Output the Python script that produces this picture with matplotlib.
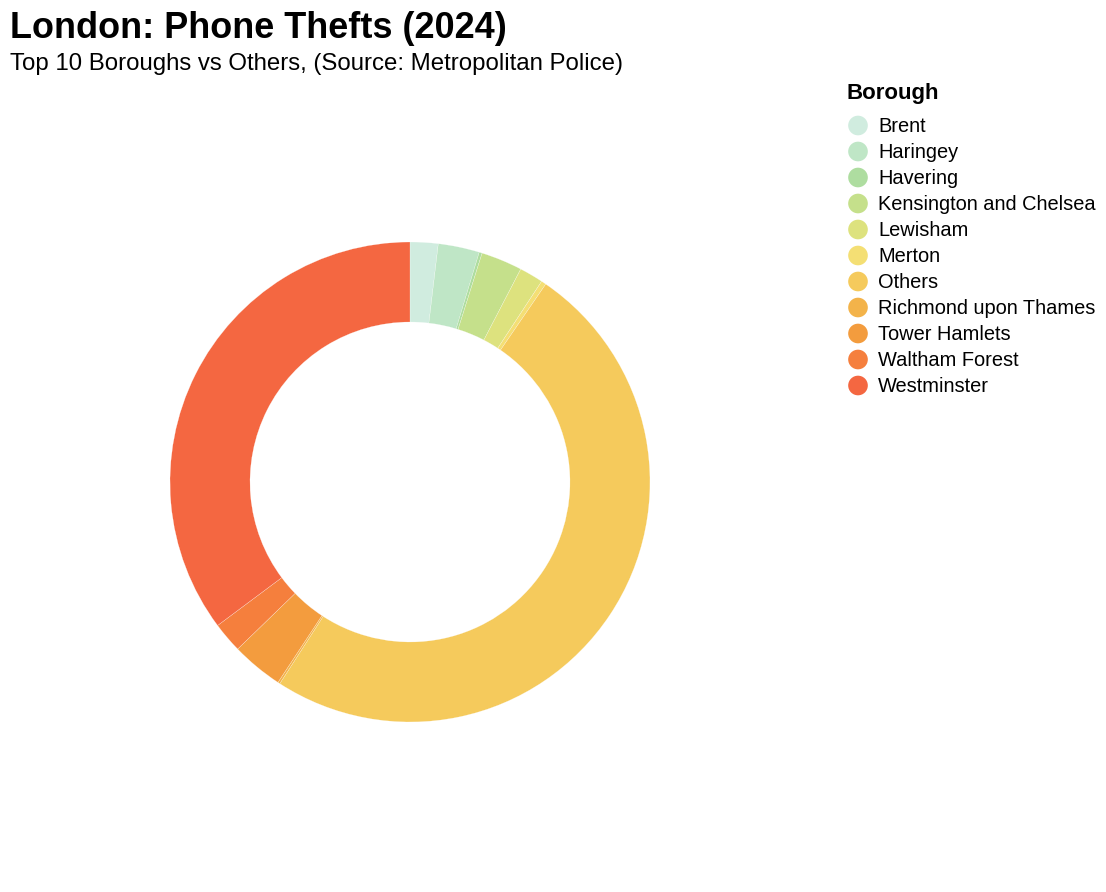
import matplotlib
matplotlib.use('Agg')
import matplotlib.pyplot as plt

# Phone thefts by borough, read off the donut (approximate counts)
boroughs = ['Brent', 'Haringey', 'Havering', 'Kensington and Chelsea', 'Lewisham',
            'Merton', 'Others', 'Richmond upon Thames', 'Tower Hamlets',
            'Waltham Forest', 'Westminster']
thefts = [1430, 2110, 150, 2110, 1220, 250, 37650, 110, 2640, 1560, 26740]
colors = ['#d0ecdf', '#bfe6c6', '#aedda0', '#c5e08b', '#dde27e', '#f4df74',
          '#f5ca5c', '#f3b34a', '#f39c3e', '#f57f3d', '#f46741']

title = 'London: Phone Thefts (2024)'
subtitle = 'Top 10 Boroughs vs Others, (Source: Metropolitan Police)'
legend_title = 'Borough'

W, H = 1106, 892
plt.rcParams['font.family'] = ['Liberation Sans', 'DejaVu Sans']

fig = plt.figure(figsize=(W / 100, H / 100), dpi=100)


def fx(x):
    return x / W


def fy(y):
    return 1 - y / H


# donut: centre (410, 482), outer radius 240 px
cx, cy, r = 410, 482, 240
ax = fig.add_axes([fx(cx - r), fy(cy + r), 2 * r / W, 2 * r / H])
ax.pie(thefts, colors=colors, startangle=90, counterclock=False, radius=1,
       wedgeprops={'width': 1 / 3, 'edgecolor': 'white', 'linewidth': 0.15})
ax.set_xlim(-1, 1)
ax.set_ylim(-1, 1)
ax.set_aspect('equal')
ax.axis('off')

fig.text(fx(10), fy(28), title, fontsize=25.9, fontweight='bold', va='center', ha='left')
fig.text(fx(10), fy(64), subtitle, fontsize=17.3, va='center', ha='left')

# legend drawn by hand on an overlay axis in pixel coordinates
lax = fig.add_axes([0, 0, 1, 1])
lax.set_xlim(0, W)
lax.set_ylim(H, 0)
lax.axis('off')
lax.text(846, 94, legend_title, fontsize=16, fontweight='bold', va='center', ha='left')
for i, (name, c) in enumerate(zip(boroughs, colors)):
    y = 126 + i * 26
    lax.scatter([858], [y - 0.5], s=200, color=c, edgecolors='none')
    lax.text(878, y + 1, name, fontsize=14.4, va='center', ha='left')

fig.savefig('out.png', dpi=100)
